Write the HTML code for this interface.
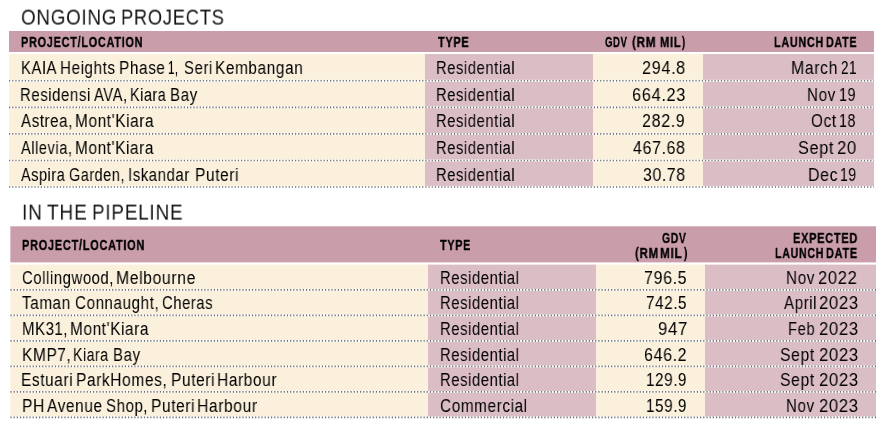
<!DOCTYPE html>
<html><head><meta charset="utf-8"><style>
html,body{margin:0;padding:0;background:#fff;width:888px;height:433px;overflow:hidden;position:relative}
.r{position:absolute}
.t{position:absolute;white-space:pre;font-family:"Liberation Sans",sans-serif;font-weight:400;transform-origin:0 0;will-change:transform}
.b{font-weight:700;-webkit-text-stroke:0.3px #000}
</style></head><body>

<svg width="888" height="433" style="position:absolute;left:0;top:0" shape-rendering="geometricPrecision"><rect x="9" y="31" width="865.00" height="21.00" fill="#C99DAA"/><rect x="9" y="54" width="416.00" height="131.90" fill="#FAF0DC"/><rect x="425" y="54" width="168.00" height="131.90" fill="#DBBDC6"/><rect x="593" y="54" width="110.00" height="131.90" fill="#FAF0DC"/><rect x="703" y="54" width="171.00" height="131.90" fill="#DBBDC6"/><rect x="10.35" y="226.3" width="865.65" height="36.10" fill="#C99DAA"/><rect x="10.35" y="264.6" width="417.65" height="152.20" fill="#FAF0DC"/><rect x="428" y="264.6" width="168.00" height="152.20" fill="#DBBDC6"/><rect x="596" y="264.6" width="109.00" height="152.20" fill="#FAF0DC"/><rect x="705" y="264.6" width="171.00" height="152.20" fill="#DBBDC6"/><rect x="9" y="79.85" width="865" height="1.9" fill="#fff"/><line x1="9" x2="874" y1="80.80" y2="80.80" stroke="#6e6e6e" stroke-width="1.6" stroke-dasharray="1.2 1.978"/><rect x="9" y="106.40" width="865" height="1.9" fill="#fff"/><line x1="9" x2="874" y1="107.35" y2="107.35" stroke="#6e6e6e" stroke-width="1.6" stroke-dasharray="1.2 1.978"/><rect x="9" y="132.95" width="865" height="1.9" fill="#fff"/><line x1="9" x2="874" y1="133.90" y2="133.90" stroke="#6e6e6e" stroke-width="1.6" stroke-dasharray="1.2 1.978"/><rect x="9" y="159.50" width="865" height="1.9" fill="#fff"/><line x1="9" x2="874" y1="160.45" y2="160.45" stroke="#6e6e6e" stroke-width="1.6" stroke-dasharray="1.2 1.978"/><rect x="9" y="186.05" width="865" height="1.9" fill="#fff"/><line x1="9" x2="874" y1="187.00" y2="187.00" stroke="#6e6e6e" stroke-width="1.6" stroke-dasharray="1.2 1.978"/><rect x="10.35" y="288.95" width="865.65" height="1.9" fill="#fff"/><line x1="10.4" x2="876" y1="289.90" y2="289.90" stroke="#6e6e6e" stroke-width="1.6" stroke-dasharray="1.2 1.978"/><rect x="10.35" y="314.45" width="865.65" height="1.9" fill="#fff"/><line x1="10.4" x2="876" y1="315.40" y2="315.40" stroke="#6e6e6e" stroke-width="1.6" stroke-dasharray="1.2 1.978"/><rect x="10.35" y="339.95" width="865.65" height="1.9" fill="#fff"/><line x1="10.4" x2="876" y1="340.90" y2="340.90" stroke="#6e6e6e" stroke-width="1.6" stroke-dasharray="1.2 1.978"/><rect x="10.35" y="365.45" width="865.65" height="1.9" fill="#fff"/><line x1="10.4" x2="876" y1="366.40" y2="366.40" stroke="#6e6e6e" stroke-width="1.6" stroke-dasharray="1.2 1.978"/><rect x="10.35" y="390.95" width="865.65" height="1.9" fill="#fff"/><line x1="10.4" x2="876" y1="391.90" y2="391.90" stroke="#6e6e6e" stroke-width="1.6" stroke-dasharray="1.2 1.978"/><rect x="10.35" y="416.45" width="865.65" height="1.9" fill="#fff"/><line x1="10.4" x2="876" y1="417.40" y2="417.40" stroke="#6e6e6e" stroke-width="1.6" stroke-dasharray="1.2 1.978"/></svg>
<div class="t" style="left:21.00px;top:7px;font-size:22px;line-height:22px;color:#151515;letter-spacing:0.900px;transform:scale(0.8547,1.02);transform-origin:0 18px">ONGOING</div>
<div class="t" style="left:120.51px;top:7px;font-size:22px;line-height:22px;color:#151515;letter-spacing:0.900px;transform:scale(0.8322,1.02);transform-origin:0 18px">PROJECTS</div>
<div class="t" style="left:22.36px;top:202px;font-size:22px;line-height:22px;color:#151515;letter-spacing:0.900px;transform:scale(0.8729,1.02);transform-origin:0 18px">IN</div>
<div class="t" style="left:46.95px;top:202px;font-size:22px;line-height:22px;color:#151515;letter-spacing:0.900px;transform:scale(0.8687,1.02);transform-origin:0 18px">THE</div>
<div class="t" style="left:91.89px;top:202px;font-size:22px;line-height:22px;color:#151515;letter-spacing:0.900px;transform:scale(0.8595,1.02);transform-origin:0 18px">PIPELINE</div>
<div class="t b" style="left:20.75px;top:35px;font-size:14px;line-height:14px;color:#000;letter-spacing:0.900px;transform:scale(0.7806,1);transform-origin:0 12px">PROJECT/LOCATION</div>
<div class="t b" style="left:438.04px;top:35px;font-size:14px;line-height:14px;color:#000;letter-spacing:0.900px;transform:scale(0.7796,1);transform-origin:0 12px">TYPE</div>
<div class="t b" style="left:605.20px;top:35px;font-size:14px;line-height:14px;color:#000;letter-spacing:0.900px;transform:scale(0.6814,1);transform-origin:0 12px">GDV</div>
<div class="t b" style="left:632.15px;top:35px;font-size:14px;line-height:14px;color:#000;letter-spacing:0.900px;transform:scale(0.8342,1);transform-origin:0 12px">(RM</div>
<div class="t b" style="left:659.55px;top:35px;font-size:14px;line-height:14px;color:#000;letter-spacing:0.900px;transform:scale(0.7979,1);transform-origin:0 12px">MIL</div>
<div class="t b" style="left:681.97px;top:35px;font-size:14px;line-height:14px;color:#000;letter-spacing:0.000px;transform:scale(0.6600,1);transform-origin:0 12px">)</div>
<div class="t b" style="left:773.95px;top:35px;font-size:14px;line-height:14px;color:#000;letter-spacing:0.900px;transform:scale(0.7742,1);transform-origin:0 12px">LAUNCH</div>
<div class="t b" style="left:826.15px;top:35px;font-size:14px;line-height:14px;color:#000;letter-spacing:0.900px;transform:scale(0.7659,1);transform-origin:0 12px">DATE</div>
<div class="t" style="left:20.78px;top:59px;font-size:18px;line-height:18px;color:#000;letter-spacing:0.700px;transform:scale(0.8228,1);transform-origin:0 15px">KAIA</div>
<div class="t" style="left:59.95px;top:59px;font-size:18px;line-height:18px;color:#000;letter-spacing:0.700px;transform:scale(0.8432,1);transform-origin:0 15px">Heights</div>
<div class="t" style="left:119.14px;top:59px;font-size:18px;line-height:18px;color:#000;letter-spacing:0.700px;transform:scale(0.8531,1);transform-origin:0 15px">Phase</div>
<div class="t" style="left:168.26px;top:59px;font-size:18px;line-height:18px;color:#000;letter-spacing:0.700px;transform:scale(0.6351,1);transform-origin:0 15px">1,</div>
<div class="t" style="left:184.49px;top:59px;font-size:18px;line-height:18px;color:#000;letter-spacing:0.700px;transform:scale(0.8294,1);transform-origin:0 15px">Seri</div>
<div class="t" style="left:214.95px;top:59px;font-size:18px;line-height:18px;color:#000;letter-spacing:0.700px;transform:scale(0.8543,1);transform-origin:0 15px">Kembangan</div>
<div class="t" style="left:20.37px;top:86px;font-size:18px;line-height:18px;color:#000;letter-spacing:0.700px;transform:scale(0.8295,1);transform-origin:0 15px">Residensi</div>
<div class="t" style="left:93.65px;top:86px;font-size:18px;line-height:18px;color:#000;letter-spacing:0.700px;transform:scale(0.8201,1);transform-origin:0 15px">AVA,</div>
<div class="t" style="left:129.99px;top:86px;font-size:18px;line-height:18px;color:#000;letter-spacing:0.700px;transform:scale(0.7984,1);transform-origin:0 15px">Kiara</div>
<div class="t" style="left:169.76px;top:86px;font-size:18px;line-height:18px;color:#000;letter-spacing:0.700px;transform:scale(0.8371,1);transform-origin:0 15px">Bay</div>
<div class="t" style="left:21.05px;top:112px;font-size:18px;line-height:18px;color:#000;letter-spacing:0.700px;transform:scale(0.8386,1);transform-origin:0 15px">Astrea,</div>
<div class="t" style="left:74.74px;top:112px;font-size:18px;line-height:18px;color:#000;letter-spacing:0.700px;transform:scale(0.8567,1);transform-origin:0 15px">Mont'Kiara</div>
<div class="t" style="left:21.05px;top:139px;font-size:18px;line-height:18px;color:#000;letter-spacing:0.700px;transform:scale(0.8099,1);transform-origin:0 15px">Allevia,</div>
<div class="t" style="left:74.74px;top:139px;font-size:18px;line-height:18px;color:#000;letter-spacing:0.700px;transform:scale(0.8545,1);transform-origin:0 15px">Mont'Kiara</div>
<div class="t" style="left:21.05px;top:166px;font-size:18px;line-height:18px;color:#000;letter-spacing:0.700px;transform:scale(0.8026,1);transform-origin:0 15px">Aspira</div>
<div class="t" style="left:69.48px;top:166px;font-size:18px;line-height:18px;color:#000;letter-spacing:0.700px;transform:scale(0.7996,1);transform-origin:0 15px">Garden,</div>
<div class="t" style="left:128.37px;top:166px;font-size:18px;line-height:18px;color:#000;letter-spacing:0.700px;transform:scale(0.8281,1);transform-origin:0 15px">Iskandar</div>
<div class="t" style="left:194.54px;top:166px;font-size:18px;line-height:18px;color:#000;letter-spacing:0.700px;transform:scale(0.8625,1);transform-origin:0 15px">Puteri</div>
<div class="t" style="left:436.18px;top:59px;font-size:18px;line-height:18px;color:#000;letter-spacing:0.700px;transform:scale(0.8187,1);transform-origin:0 15px">Residential</div>
<div class="t" style="left:436.18px;top:86px;font-size:18px;line-height:18px;color:#000;letter-spacing:0.700px;transform:scale(0.8187,1);transform-origin:0 15px">Residential</div>
<div class="t" style="left:436.18px;top:112px;font-size:18px;line-height:18px;color:#000;letter-spacing:0.700px;transform:scale(0.8187,1);transform-origin:0 15px">Residential</div>
<div class="t" style="left:436.18px;top:139px;font-size:18px;line-height:18px;color:#000;letter-spacing:0.700px;transform:scale(0.8187,1);transform-origin:0 15px">Residential</div>
<div class="t" style="left:436.18px;top:166px;font-size:18px;line-height:18px;color:#000;letter-spacing:0.700px;transform:scale(0.8187,1);transform-origin:0 15px">Residential</div>
<div class="t" style="left:642.29px;top:59px;font-size:18px;line-height:18px;color:#000;letter-spacing:0.700px;transform:scale(0.9028,1);transform-origin:0 15px">294.8</div>
<div class="t" style="left:632.09px;top:86px;font-size:18px;line-height:18px;color:#000;letter-spacing:0.700px;transform:scale(0.9118,1);transform-origin:0 15px">664.23</div>
<div class="t" style="left:642.48px;top:112px;font-size:18px;line-height:18px;color:#000;letter-spacing:0.700px;transform:scale(0.8936,1);transform-origin:0 15px">282.9</div>
<div class="t" style="left:633.00px;top:139px;font-size:18px;line-height:18px;color:#000;letter-spacing:0.700px;transform:scale(0.8875,1);transform-origin:0 15px">467.68</div>
<div class="t" style="left:643.09px;top:166px;font-size:18px;line-height:18px;color:#000;letter-spacing:0.700px;transform:scale(0.8807,1);transform-origin:0 15px">30.78</div>
<div class="t" style="left:791.32px;top:59px;font-size:18px;line-height:18px;color:#000;letter-spacing:0.700px;transform:scale(0.8789,1);transform-origin:0 15px">March</div>
<div class="t" style="left:840.62px;top:59px;font-size:18px;line-height:18px;color:#000;letter-spacing:0.700px;transform:scale(0.7434,1);transform-origin:0 15px">21</div>
<div class="t" style="left:807.36px;top:86px;font-size:18px;line-height:18px;color:#000;letter-spacing:0.700px;transform:scale(0.8439,1);transform-origin:0 15px">Nov</div>
<div class="t" style="left:839.24px;top:86px;font-size:18px;line-height:18px;color:#000;letter-spacing:0.700px;transform:scale(0.7955,1);transform-origin:0 15px">19</div>
<div class="t" style="left:811.09px;top:112px;font-size:18px;line-height:18px;color:#000;letter-spacing:0.700px;transform:scale(0.8510,1);transform-origin:0 15px">Oct</div>
<div class="t" style="left:839.25px;top:112px;font-size:18px;line-height:18px;color:#000;letter-spacing:0.700px;transform:scale(0.7923,1);transform-origin:0 15px">18</div>
<div class="t" style="left:798.29px;top:139px;font-size:18px;line-height:18px;color:#000;letter-spacing:0.700px;transform:scale(0.9025,1);transform-origin:0 15px">Sept</div>
<div class="t" style="left:836.65px;top:139px;font-size:18px;line-height:18px;color:#000;letter-spacing:0.700px;transform:scale(0.9252,1);transform-origin:0 15px">20</div>
<div class="t" style="left:807.51px;top:166px;font-size:18px;line-height:18px;color:#000;letter-spacing:0.700px;transform:scale(0.8827,1);transform-origin:0 15px">Dec</div>
<div class="t" style="left:839.87px;top:166px;font-size:18px;line-height:18px;color:#000;letter-spacing:0.700px;transform:scale(0.7702,1);transform-origin:0 15px">19</div>
<div class="t b" style="left:21.95px;top:238px;font-size:14px;line-height:14px;color:#000;letter-spacing:0.900px;transform:scale(0.7861,1);transform-origin:0 12px">PROJECT/LOCATION</div>
<div class="t b" style="left:440.46px;top:238px;font-size:14px;line-height:14px;color:#000;letter-spacing:0.900px;transform:scale(0.7707,1);transform-origin:0 12px">TYPE</div>
<div class="t b" style="left:662.20px;top:231px;font-size:14px;line-height:14px;color:#000;letter-spacing:0.900px;transform:scale(0.7441,1);transform-origin:0 12px">GDV</div>
<div class="t b" style="left:634.95px;top:246px;font-size:14px;line-height:14px;color:#000;letter-spacing:0.900px;transform:scale(0.8234,1);transform-origin:0 12px">(RM</div>
<div class="t b" style="left:659.86px;top:246px;font-size:14px;line-height:14px;color:#000;letter-spacing:0.900px;transform:scale(0.8406,1);transform-origin:0 12px">MIL</div>
<div class="t b" style="left:683.98px;top:246px;font-size:14px;line-height:14px;color:#000;letter-spacing:0.000px;transform:scale(0.7043,1);transform-origin:0 12px">)</div>
<div class="t b" style="left:793.35px;top:231px;font-size:14px;line-height:14px;color:#000;letter-spacing:0.900px;transform:scale(0.7851,1);transform-origin:0 12px">EXPECTED</div>
<div class="t b" style="left:774.54px;top:246px;font-size:14px;line-height:14px;color:#000;letter-spacing:0.900px;transform:scale(0.7608,1);transform-origin:0 12px">LAUNCH</div>
<div class="t b" style="left:826.15px;top:246px;font-size:14px;line-height:14px;color:#000;letter-spacing:0.900px;transform:scale(0.7810,1);transform-origin:0 12px">DATE</div>
<div class="t" style="left:22.09px;top:269px;font-size:18px;line-height:18px;color:#000;letter-spacing:0.700px;transform:scale(0.8255,1);transform-origin:0 15px">Collingwood,</div>
<div class="t" style="left:116.12px;top:269px;font-size:18px;line-height:18px;color:#000;letter-spacing:0.700px;transform:scale(0.8747,1);transform-origin:0 15px">Melbourne</div>
<div class="t" style="left:22.00px;top:294px;font-size:18px;line-height:18px;color:#000;letter-spacing:0.700px;transform:scale(0.8474,1);transform-origin:0 15px">Taman</div>
<div class="t" style="left:75.10px;top:294px;font-size:18px;line-height:18px;color:#000;letter-spacing:0.700px;transform:scale(0.8413,1);transform-origin:0 15px">Connaught,</div>
<div class="t" style="left:161.69px;top:294px;font-size:18px;line-height:18px;color:#000;letter-spacing:0.700px;transform:scale(0.8228,1);transform-origin:0 15px">Cheras</div>
<div class="t" style="left:21.57px;top:320px;font-size:18px;line-height:18px;color:#000;letter-spacing:0.700px;transform:scale(0.8304,1);transform-origin:0 15px">MK31,</div>
<div class="t" style="left:69.54px;top:320px;font-size:18px;line-height:18px;color:#000;letter-spacing:0.700px;transform:scale(0.8551,1);transform-origin:0 15px">Mont'Kiara</div>
<div class="t" style="left:21.54px;top:346px;font-size:18px;line-height:18px;color:#000;letter-spacing:0.700px;transform:scale(0.8593,1);transform-origin:0 15px">KMP7,</div>
<div class="t" style="left:73.01px;top:346px;font-size:18px;line-height:18px;color:#000;letter-spacing:0.700px;transform:scale(0.7827,1);transform-origin:0 15px">Kiara</div>
<div class="t" style="left:112.97px;top:346px;font-size:18px;line-height:18px;color:#000;letter-spacing:0.700px;transform:scale(0.8323,1);transform-origin:0 15px">Bay</div>
<div class="t" style="left:21.34px;top:371px;font-size:18px;line-height:18px;color:#000;letter-spacing:0.700px;transform:scale(0.8571,1);transform-origin:0 15px">Estuari</div>
<div class="t" style="left:76.13px;top:371px;font-size:18px;line-height:18px;color:#000;letter-spacing:0.700px;transform:scale(0.8614,1);transform-origin:0 15px">ParkHomes,</div>
<div class="t" style="left:170.54px;top:371px;font-size:18px;line-height:18px;color:#000;letter-spacing:0.700px;transform:scale(0.8625,1);transform-origin:0 15px">Puteri</div>
<div class="t" style="left:217.14px;top:371px;font-size:18px;line-height:18px;color:#000;letter-spacing:0.700px;transform:scale(0.8603,1);transform-origin:0 15px">Harbour</div>
<div class="t" style="left:21.93px;top:397px;font-size:18px;line-height:18px;color:#000;letter-spacing:0.700px;transform:scale(0.8633,1);transform-origin:0 15px">PH</div>
<div class="t" style="left:46.85px;top:397px;font-size:18px;line-height:18px;color:#000;letter-spacing:0.700px;transform:scale(0.8573,1);transform-origin:0 15px">Avenue</div>
<div class="t" style="left:105.89px;top:397px;font-size:18px;line-height:18px;color:#000;letter-spacing:0.700px;transform:scale(0.8319,1);transform-origin:0 15px">Shop,</div>
<div class="t" style="left:150.54px;top:397px;font-size:18px;line-height:18px;color:#000;letter-spacing:0.700px;transform:scale(0.8625,1);transform-origin:0 15px">Puteri</div>
<div class="t" style="left:197.13px;top:397px;font-size:18px;line-height:18px;color:#000;letter-spacing:0.700px;transform:scale(0.8684,1);transform-origin:0 15px">Harbour</div>
<div class="t" style="left:439.78px;top:269px;font-size:18px;line-height:18px;color:#000;letter-spacing:0.700px;transform:scale(0.8230,1);transform-origin:0 15px">Residential</div>
<div class="t" style="left:439.78px;top:294px;font-size:18px;line-height:18px;color:#000;letter-spacing:0.700px;transform:scale(0.8230,1);transform-origin:0 15px">Residential</div>
<div class="t" style="left:439.78px;top:320px;font-size:18px;line-height:18px;color:#000;letter-spacing:0.700px;transform:scale(0.8230,1);transform-origin:0 15px">Residential</div>
<div class="t" style="left:439.78px;top:346px;font-size:18px;line-height:18px;color:#000;letter-spacing:0.700px;transform:scale(0.8230,1);transform-origin:0 15px">Residential</div>
<div class="t" style="left:439.78px;top:371px;font-size:18px;line-height:18px;color:#000;letter-spacing:0.700px;transform:scale(0.8230,1);transform-origin:0 15px">Residential</div>
<div class="t" style="left:440.10px;top:397px;font-size:18px;line-height:18px;color:#000;letter-spacing:0.700px;transform:scale(0.8519,1);transform-origin:0 15px">Commercial</div>
<div class="t" style="left:644.48px;top:269px;font-size:18px;line-height:18px;color:#000;letter-spacing:0.700px;transform:scale(0.8893,1);transform-origin:0 15px">796.5</div>
<div class="t" style="left:646.28px;top:294px;font-size:18px;line-height:18px;color:#000;letter-spacing:0.700px;transform:scale(0.8463,1);transform-origin:0 15px">742.5</div>
<div class="t" style="left:658.29px;top:320px;font-size:18px;line-height:18px;color:#000;letter-spacing:0.700px;transform:scale(0.9314,1);transform-origin:0 15px">947</div>
<div class="t" style="left:644.48px;top:346px;font-size:18px;line-height:18px;color:#000;letter-spacing:0.700px;transform:scale(0.8893,1);transform-origin:0 15px">646.2</div>
<div class="t" style="left:646.34px;top:371px;font-size:18px;line-height:18px;color:#000;letter-spacing:0.700px;transform:scale(0.8449,1);transform-origin:0 15px">129.9</div>
<div class="t" style="left:646.34px;top:397px;font-size:18px;line-height:18px;color:#000;letter-spacing:0.700px;transform:scale(0.8449,1);transform-origin:0 15px">159.9</div>
<div class="t" style="left:785.55px;top:269px;font-size:18px;line-height:18px;color:#000;letter-spacing:0.700px;transform:scale(0.8485,1);transform-origin:0 15px">Nov</div>
<div class="t" style="left:818.47px;top:269px;font-size:18px;line-height:18px;color:#000;letter-spacing:0.700px;transform:scale(0.9183,1);transform-origin:0 15px">2022</div>
<div class="t" style="left:783.65px;top:294px;font-size:18px;line-height:18px;color:#000;letter-spacing:0.700px;transform:scale(0.8384,1);transform-origin:0 15px">April</div>
<div class="t" style="left:818.68px;top:294px;font-size:18px;line-height:18px;color:#000;letter-spacing:0.700px;transform:scale(0.9252,1);transform-origin:0 15px">2023</div>
<div class="t" style="left:788.36px;top:320px;font-size:18px;line-height:18px;color:#000;letter-spacing:0.700px;transform:scale(0.8192,1);transform-origin:0 15px">Feb</div>
<div class="t" style="left:818.68px;top:320px;font-size:18px;line-height:18px;color:#000;letter-spacing:0.700px;transform:scale(0.9252,1);transform-origin:0 15px">2023</div>
<div class="t" style="left:780.29px;top:346px;font-size:18px;line-height:18px;color:#000;letter-spacing:0.700px;transform:scale(0.8717,1);transform-origin:0 15px">Sept</div>
<div class="t" style="left:818.68px;top:346px;font-size:18px;line-height:18px;color:#000;letter-spacing:0.700px;transform:scale(0.9252,1);transform-origin:0 15px">2023</div>
<div class="t" style="left:780.29px;top:371px;font-size:18px;line-height:18px;color:#000;letter-spacing:0.700px;transform:scale(0.8717,1);transform-origin:0 15px">Sept</div>
<div class="t" style="left:818.68px;top:371px;font-size:18px;line-height:18px;color:#000;letter-spacing:0.700px;transform:scale(0.9252,1);transform-origin:0 15px">2023</div>
<div class="t" style="left:785.56px;top:397px;font-size:18px;line-height:18px;color:#000;letter-spacing:0.700px;transform:scale(0.8377,1);transform-origin:0 15px">Nov</div>
<div class="t" style="left:819.09px;top:397px;font-size:18px;line-height:18px;color:#000;letter-spacing:0.700px;transform:scale(0.9217,1);transform-origin:0 15px">2023</div>
</body></html>
